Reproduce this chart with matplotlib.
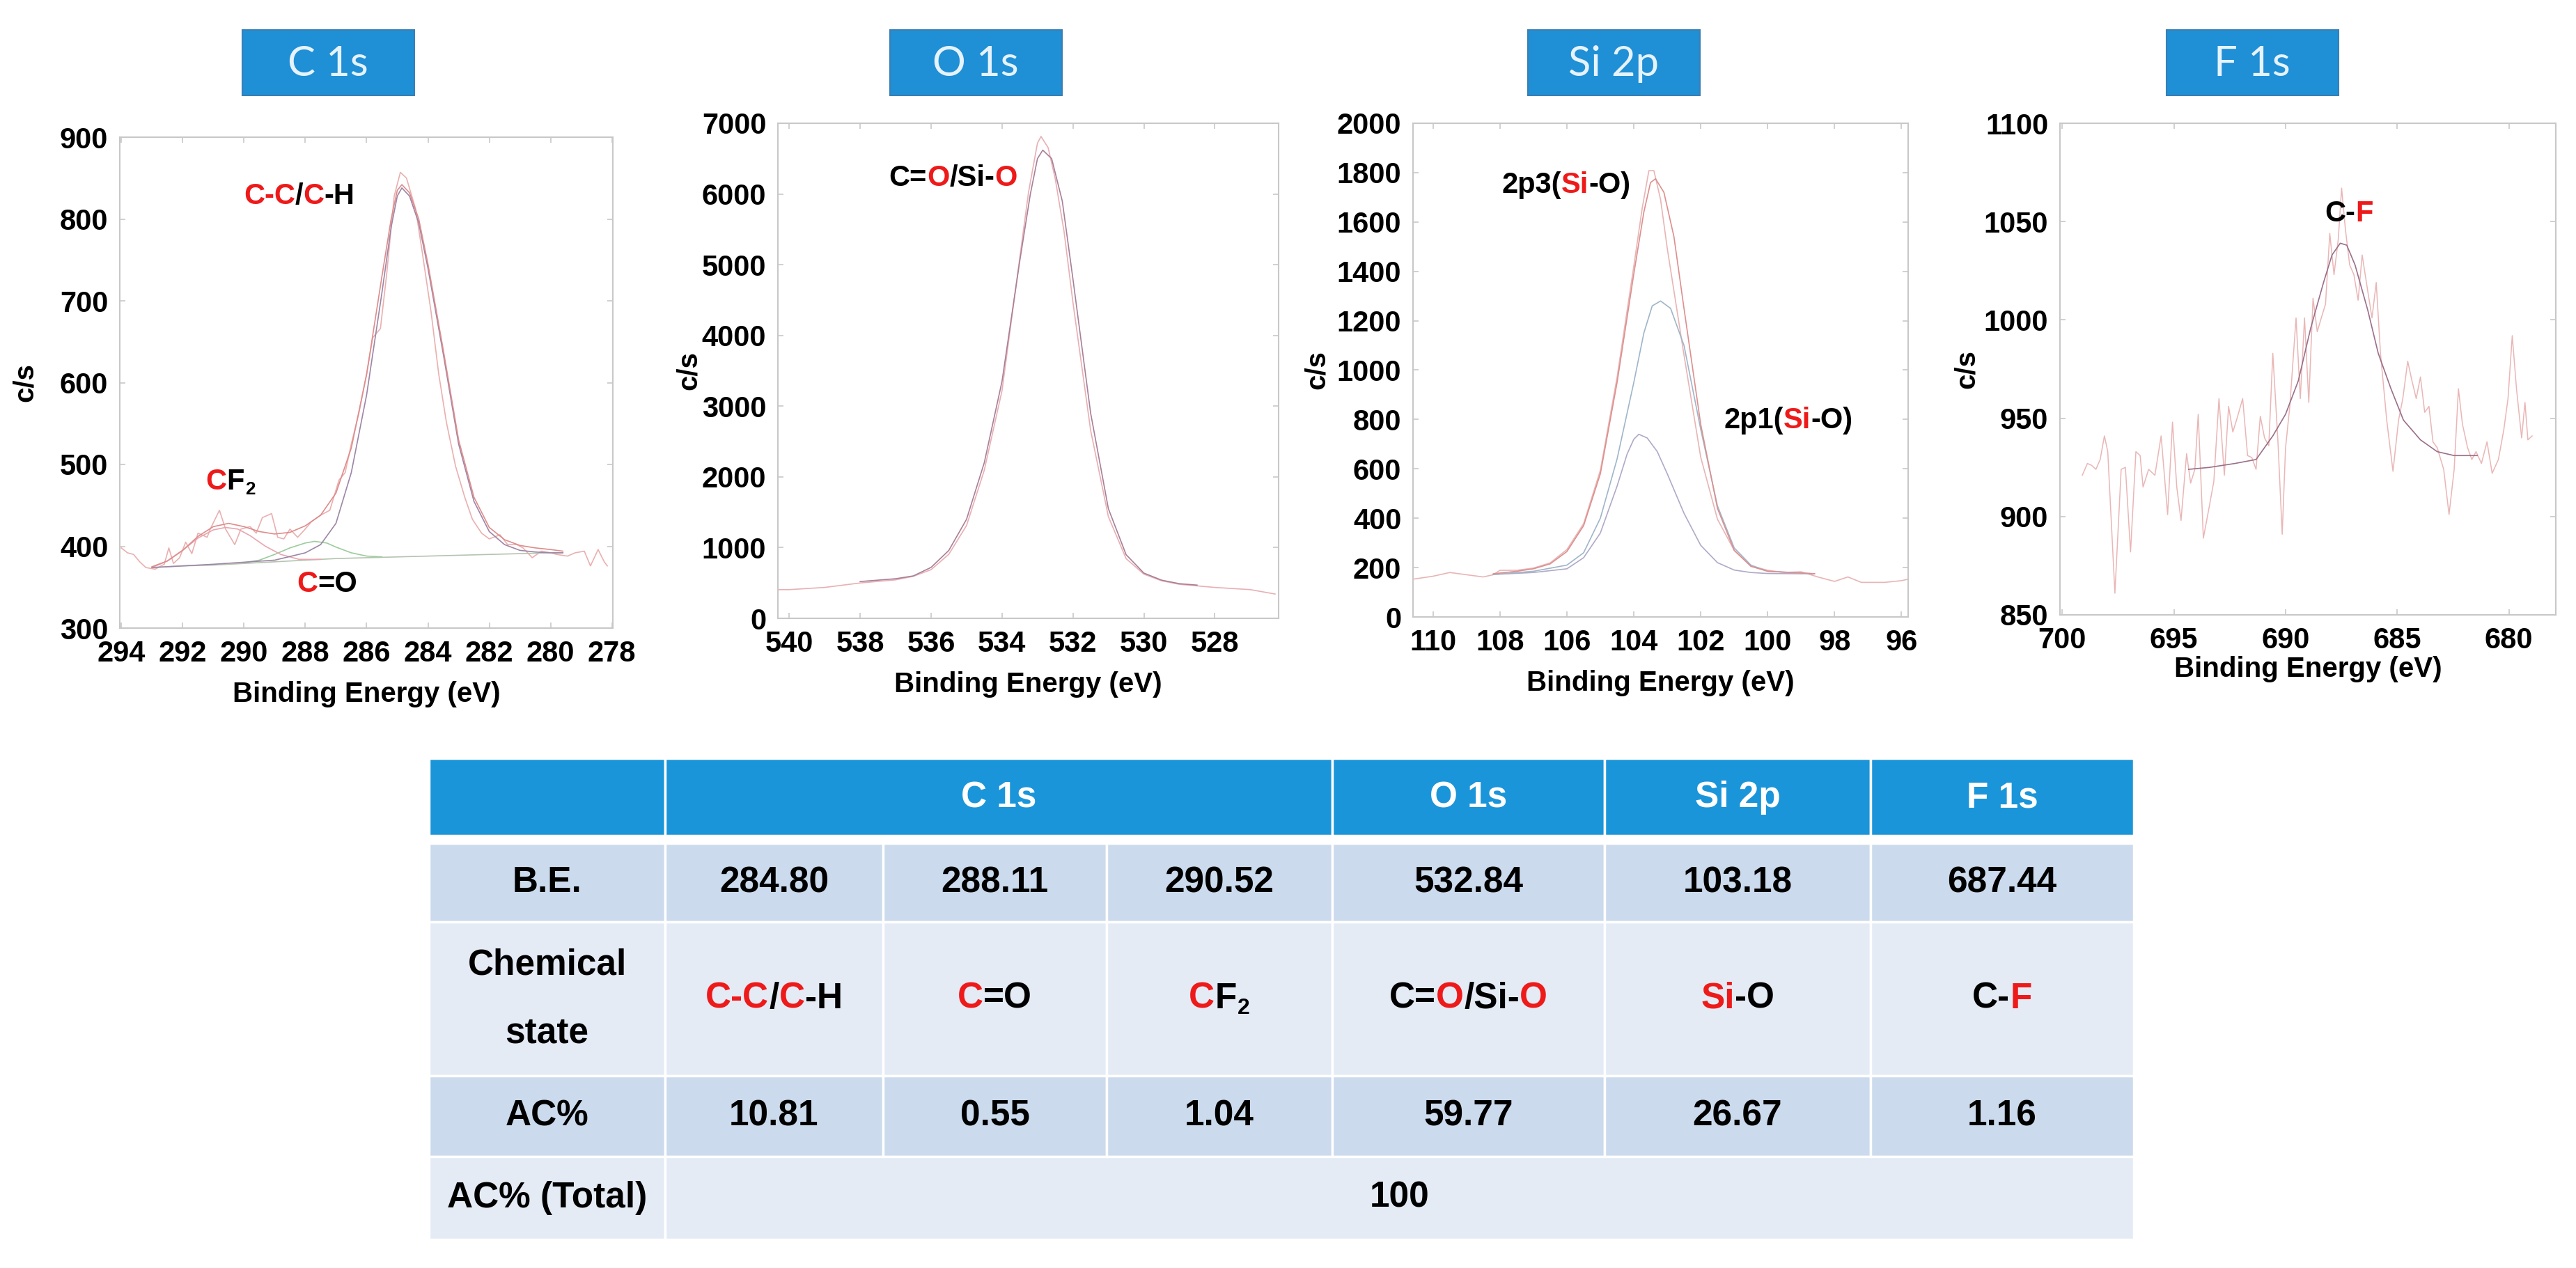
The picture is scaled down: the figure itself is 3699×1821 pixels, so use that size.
import numpy as np
import matplotlib.pyplot as plt
from matplotlib.patches import Rectangle
from matplotlib.transforms import offset_copy

plt.rcParams['font.family'] = ['Liberation Sans', 'DejaVu Sans']
plt.rcParams['font.weight'] = 'bold'
plt.rcParams['axes.labelweight'] = 'bold'

# ---- spectra (binding energy eV, counts c/s) ----
c1s_raw = [(294.0, 398), (293.8, 392), (293.6, 390), (293.4, 381), (293.2, 374), (292.9, 372),
           (292.6, 378), (292.45, 398), (292.3, 379), (292.1, 386), (291.9, 405), (291.7, 391),
           (291.5, 416), (291.2, 411), (291.1, 421), (290.8, 444), (290.6, 421), (290.3, 402),
           (290.1, 421), (289.8, 424), (289.6, 416), (289.4, 435), (289.1, 440), (288.9, 411),
           (288.7, 409), (288.5, 421), (288.25, 411), (288.05, 419), (287.8, 430), (287.5, 438),
           (287.2, 444), (286.9, 481), (286.7, 490), (286.5, 525), (286.25, 563), (286.0, 611),
           (285.8, 655), (285.55, 666), (285.35, 731), (285.1, 828), (284.9, 857), (284.7, 850),
           (284.4, 812), (284.2, 763), (283.9, 687), (283.65, 611), (283.4, 552), (283.1, 498),
           (282.8, 460), (282.55, 433), (282.25, 416), (282.0, 409), (281.65, 414), (281.4, 402),
           (281.1, 402), (280.9, 398), (280.6, 386), (280.3, 394), (280.0, 392), (279.8, 390),
           (279.45, 388), (279.2, 392), (278.9, 394), (278.7, 376), (278.45, 396), (278.25, 381),
           (278.15, 376)]
c1s_env = [(293.0, 375), (292.5, 382), (292.0, 395), (291.5, 412), (291.0, 424), (290.5, 428),
           (290.0, 424), (289.5, 418), (289.0, 415), (288.5, 417), (288.0, 425), (287.5, 438),
           (287.0, 465), (286.5, 520), (286.0, 610), (285.5, 730), (285.2, 800), (285.0, 835),
           (284.85, 842), (284.6, 832), (284.3, 800), (284.0, 745), (283.5, 640), (283.0, 530),
           (282.5, 460), (282.0, 423), (281.5, 408), (281.0, 401), (280.5, 398), (280.0, 396),
           (279.6, 394)]
c1s_cc = [(293.0, 374), (291.0, 378), (289.0, 383), (288.0, 392), (287.5, 402), (287.0, 428),
          (286.5, 490), (286.0, 585), (285.5, 710), (285.2, 790), (285.0, 828), (284.85, 838),
          (284.6, 828), (284.3, 795), (284.0, 740), (283.5, 635), (283.0, 525), (282.5, 455),
          (282.0, 418), (281.5, 402), (281.0, 395), (280.5, 393), (280.0, 392), (279.6, 392)]
c1s_co = [(290.0, 380), (289.5, 383), (289.0, 390), (288.5, 398), (288.0, 404), (287.7, 406),
          (287.3, 404), (287.0, 399), (286.5, 392), (286.0, 388), (285.5, 387)]
c1s_cf2 = [(293.0, 374), (292.5, 382), (292.0, 395), (291.5, 410), (291.0, 420), (290.6, 423),
           (290.2, 421), (289.8, 413), (289.3, 400), (288.8, 390), (288.2, 384), (287.5, 384)]
c1s_bg = [(293.0, 374), (292.0, 376), (291.0, 377), (290.0, 379), (289.0, 381), (288.0, 383),
          (287.0, 385), (286.0, 386), (285.0, 387), (284.0, 388), (283.0, 389), (282.0, 390),
          (281.0, 391), (280.0, 392), (279.6, 392)]

o1s_raw = [(540.32, 406), (540.0, 406), (539.0, 437), (538.0, 500), (537.0, 544), (536.5, 594),
           (536.0, 688), (535.5, 906), (535.0, 1312), (534.5, 2094), (534.0, 3219), (533.5, 5094),
           (533.25, 6031), (533.0, 6719), (532.9, 6813), (532.7, 6656), (532.5, 6219),
           (532.25, 5469), (532.0, 4469), (531.5, 2656), (531.0, 1438), (530.5, 844), (530.0, 625),
           (529.5, 531), (529.0, 481), (528.0, 437), (527.0, 406), (526.3, 344)]
o1s_fit = [(538.0, 520), (537.0, 560), (536.5, 600), (536.0, 720), (535.5, 960), (535.0, 1400),
           (534.5, 2200), (534.0, 3350), (533.5, 5050), (533.2, 6000), (533.0, 6500),
           (532.85, 6620), (532.6, 6500), (532.3, 5900), (532.0, 4800), (531.5, 2900),
           (531.0, 1550), (530.5, 900), (530.0, 640), (529.5, 540), (529.0, 490), (528.5, 470)]

si2p_raw = [(110.6, 153), (110.0, 165), (109.5, 180), (109.0, 171), (108.5, 162), (108.2, 171),
            (108.0, 189), (107.5, 189), (107.0, 198), (106.5, 219), (106.0, 273), (105.5, 378),
            (105.0, 594), (104.5, 971), (104.0, 1421), (103.75, 1655), (103.55, 1808),
            (103.4, 1808), (103.2, 1691), (103.0, 1493), (102.5, 1061), (102.0, 647), (101.5, 396),
            (101.0, 270), (100.5, 207), (100.0, 189), (99.5, 180), (99.0, 183), (98.5, 162),
            (98.0, 144), (97.6, 162), (97.2, 140), (96.5, 140), (96.0, 147), (95.8, 153)]
si2p_env = [(108.2, 175), (107.5, 185), (107.0, 195), (106.5, 215), (106.0, 265), (105.5, 370),
            (105.0, 580), (104.5, 950), (104.0, 1390), (103.7, 1640), (103.5, 1760),
            (103.35, 1775), (103.1, 1720), (102.8, 1540), (102.5, 1250), (102.0, 780),
            (101.5, 440), (101.0, 270), (100.5, 205), (100.0, 185), (99.0, 178), (98.6, 175)]
si2p_p3 = [(108.2, 172), (107.0, 185), (106.0, 210), (105.5, 260), (105.0, 400), (104.5, 640),
           (104.0, 950), (103.7, 1150), (103.45, 1260), (103.2, 1280), (102.9, 1250),
           (102.5, 1100), (102.0, 760), (101.5, 450), (101.0, 280), (100.5, 210), (100.0, 185),
           (99.0, 178), (98.6, 175)]
si2p_p1 = [(108.2, 172), (107.0, 180), (106.0, 195), (105.5, 240), (105.0, 340), (104.5, 530),
           (104.2, 660), (104.0, 720), (103.85, 740), (103.6, 725), (103.3, 670), (103.0, 580),
           (102.5, 420), (102.0, 290), (101.5, 220), (101.0, 190), (100.5, 180), (100.0, 176),
           (99.0, 175), (98.6, 175)]

f1s_raw = [(699.1, 921), (698.87, 927), (698.68, 926), (698.49, 924), (698.3, 929), (698.11, 941),
           (697.96, 933), (697.64, 861), (697.36, 924), (697.17, 925), (696.94, 882), (696.7, 933),
           (696.51, 931), (696.38, 915), (696.13, 924), (695.85, 921), (695.57, 941), (695.28, 901),
           (695.06, 948), (694.87, 915), (694.68, 898), (694.43, 932), (694.25, 917), (694.06, 924),
           (693.91, 952), (693.68, 889), (693.4, 906), (693.21, 918), (692.98, 960), (692.74, 921),
           (692.55, 956), (692.36, 943), (692.17, 950), (691.92, 960), (691.7, 931), (691.51, 930),
           (691.32, 924), (691.13, 951), (690.94, 940), (690.75, 936), (690.57, 983), (690.34, 938),
           (690.15, 891), (690.0, 935), (689.81, 956), (689.53, 1001), (689.34, 960),
           (689.15, 1001), (688.96, 958), (688.77, 1011), (688.58, 994), (688.4, 1001),
           (688.21, 1008), (688.02, 1044), (687.83, 1023), (687.64, 1041), (687.49, 1067),
           (687.32, 1046), (687.13, 1028), (686.94, 1023), (686.75, 1010), (686.57, 1033),
           (686.38, 1019), (686.13, 1001), (685.94, 1019), (685.75, 983), (685.47, 949),
           (685.19, 923), (684.94, 949), (684.75, 960), (684.53, 979), (684.34, 969), (684.15, 960),
           (683.96, 971), (683.77, 953), (683.58, 956), (683.4, 938), (683.21, 935), (682.92, 924),
           (682.68, 901), (682.45, 924), (682.26, 965), (682.08, 947), (681.85, 935), (681.66, 929),
           (681.47, 933), (681.23, 927), (680.98, 938), (680.75, 922), (680.47, 929), (680.23, 944),
           (680.04, 960), (679.85, 992), (679.66, 965), (679.43, 940), (679.28, 958), (679.15, 939),
           (678.96, 941)]
f1s_fit = [(694.34, 924), (693.4, 925), (692.26, 927), (691.32, 929), (690.57, 941), (690.0, 952),
           (689.43, 969), (688.87, 996), (688.3, 1019), (687.92, 1033), (687.55, 1039),
           (687.26, 1038), (686.89, 1028), (686.32, 1005), (685.85, 983), (685.28, 965),
           (684.72, 949), (683.96, 939), (683.21, 933), (682.45, 931), (681.42, 931)]

# ---- table ----
table_heads = ['C 1s', 'O 1s', 'Si 2p', 'F 1s']
table_spans = [3, 1, 1, 1]
row_names = ['B.E.', 'Chemical state', 'AC%', 'AC% (Total)']
be_values = ['284.80', '288.11', '290.52', '532.84', '103.18', '687.44']
ac_values = ['10.81', '0.55', '1.04', '59.77', '26.67', '1.16']
ac_total = '100'

RED = '#ee1a1a'
K = 'black'
chem_states = [
    [('C-C', RED), ('/', K), ('C', RED), ('-H', K)],
    [('C', RED), ('=O', K)],
    [('C', RED), ('F', K), ('2', K, 'sub')],
    [('C=', K), ('O', RED), ('/Si-', K), ('O', RED)],
    [('Si', RED), ('-O', K)],
    [('C-', K), ('F', RED)],
]

W, H = 3699, 1821
fig = plt.figure(figsize=(W / 100, H / 100), dpi=100)
fig.patch.set_facecolor('white')

rich_groups = []


def rich(ax, x, y, parts, size, transform=None):
    if transform is None:
        transform = ax.transData
    t0 = ax.text(x, y, parts[0][0], color=parts[0][1], fontsize=size, fontweight='bold',
                 ha='left', va='center', transform=transform, zorder=6)
    arts = [t0]
    for p in parts[1:]:
        if len(p) > 2:
            a = ax.annotate(p[0], xy=(1, 0), xycoords=arts[-1], xytext=(1, -0.07 * size),
                            textcoords='offset points', fontsize=size * 0.62, color=p[1],
                            fontweight='bold', ha='left', va='bottom', zorder=6)
        else:
            a = ax.annotate(p[0], xy=(1, 0), xycoords=arts[-1], fontsize=size, color=p[1],
                            fontweight='bold', ha='left', va='bottom', zorder=6)
        arts.append(a)
    rich_groups.append((t0, arts, transform))


# overlay axes in pixel units for the boxes and the table
ov = fig.add_axes([0, 0, 1, 1])
ov.set_xlim(0, W)
ov.set_ylim(H, 0)
ov.axis('off')

# title boxes
box_x = [348, 1278, 2194, 3111]
for bx, name in zip(box_x, table_heads):
    ov.add_patch(Rectangle((bx, 43), 247, 94, facecolor='#1f8fd6', edgecolor='#3a7fb5', lw=1.5))
    ov.text(bx + 123, 92, name, ha='center', va='center', fontsize=43, fontweight='normal',
            family=['Lato', 'DejaVu Sans'], color='#e6f3fc')

# panels
def make_panel(rect, xlim, xticks, ylim, yticks, ylab_x, xlabpad):
    ax = fig.add_axes(rect)
    ax.set_xlim(*xlim)
    ax.set_ylim(*ylim)
    ax.set_xticks(xticks)
    ax.set_yticks(yticks)
    for s in ax.spines.values():
        s.set_color('#c8c8c8')
        s.set_linewidth(1.5)
    ax.tick_params(direction='in', length=6, width=1.2, color='#c8c8c8', top=True, right=True,
                   labelsize=30, labelcolor='black', pad=12)
    ax.set_xlabel('Binding Energy (eV)', fontsize=29, labelpad=xlabpad)
    ax.set_ylabel('c/s', fontsize=29)
    ax.yaxis.set_label_coords(ylab_x, 0.5)
    return ax


def draw(ax, pts, color, lw=1.2):
    a = np.array(pts)
    ax.plot(a[:, 0], a[:, 1], color=color, lw=lw)


ax1 = make_panel([172 / W, 1 - 902 / H, 708 / W, 705 / H], (294.05, 277.97),
                 np.arange(294, 277, -2), (300, 900), np.arange(300, 901, 100), -0.165, 14)
draw(ax1, c1s_raw, '#eab0b0')
draw(ax1, c1s_bg, '#b5c4b0')
draw(ax1, c1s_co, '#9ccc9c')
draw(ax1, c1s_cf2, '#e8a6b0')
draw(ax1, c1s_cc, '#9d86a6')
draw(ax1, c1s_env, '#df8c8c')
rich(ax1, 288.2, 828, chem_states[0], 30)
rich(ax1, 290.45, 479, chem_states[2], 30)
rich(ax1, 287.3, 354, chem_states[1], 30)

ax2 = make_panel([1117 / W, 1 - 888 / H, 719 / W, 711 / H], (540.32, 526.2),
                 np.arange(540, 527, -2), (0, 7000), np.arange(0, 7001, 1000), -0.152, 14)
draw(ax2, o1s_raw, '#e8b0b4')
draw(ax2, o1s_fit, '#a88098')
rich(ax2, 535.38, 6219, chem_states[3], 30)

ax3 = make_panel([2029 / W, 1 - 886 / H, 711 / W, 709 / H], (110.6, 95.8),
                 np.arange(110, 95, -2), (0, 2000), np.arange(0, 2001, 200), -0.168, 14)
draw(ax3, si2p_raw, '#e8b5b5')
draw(ax3, si2p_p1, '#b0aac8')
draw(ax3, si2p_p3, '#9fb6c9')
draw(ax3, si2p_env, '#dd8f8f')
rich(ax3, 106.02, 1748, [('2p3(', K), ('Si', RED), ('-O)', K)], 30)
rich(ax3, 99.38, 795, [('2p1(', K), ('Si', RED), ('-O)', K)], 30)

ax4 = make_panel([2958 / W, 1 - 883 / H, 712 / W, 706 / H], (700.1, 677.9),
                 np.arange(700, 679, -5), (850, 1100), np.arange(850, 1101, 50), -0.162, 2)
draw(ax4, f1s_raw, '#eab6b6', lw=1.1)
draw(ax4, f1s_fit, '#9a6f8a')
rich(ax4, 687.17, 1054, chem_states[5], 30)

# table
col_edges = [616, 955, 1268, 1589, 1913, 2304, 2686, 3064]
rows = [(1211, 1324), (1324, 1545), (1545, 1661), (1661, 1780)]
BLUE = '#1b95d9'
DARK = '#cbdaec'
LIGHT = '#e4ebf5'
TS = 37


def cell(x0, x1, y0, y1, color):
    ov.add_patch(Rectangle((x0, y0), x1 - x0, y1 - y0, facecolor=color, edgecolor='white', lw=2.5))


cell(col_edges[0], col_edges[1], 1089, 1200, BLUE)
ci = 1
for name, span in zip(table_heads, table_spans):
    x0, x1 = col_edges[ci], col_edges[ci + span]
    cell(x0, x1, 1089, 1200, BLUE)
    ov.text((x0 + x1) / 2, 1146, name, ha='center', va='center', fontsize=TS, color='white')
    ci += span

row_colors = [DARK, LIGHT, DARK, LIGHT]
for (y0, y1), col, rname in zip(rows, row_colors, row_names):
    cell(col_edges[0], col_edges[1], y0, y1, col)
    cy = (y0 + y1) / 2
    cx = (col_edges[0] + col_edges[1]) / 2
    if rname == 'Chemical state':
        ov.text(cx, cy - 48, 'Chemical', ha='center', va='center', fontsize=TS)
        ov.text(cx, cy + 50, 'state', ha='center', va='center', fontsize=TS)
    else:
        ov.text(cx, cy, rname, ha='center', va='center', fontsize=TS)

    if rname == 'AC% (Total)':
        cell(col_edges[1], col_edges[-1], y0, y1, col)
        ov.text((col_edges[1] + col_edges[-1]) / 2, cy, ac_total, ha='center', va='center', fontsize=TS)
        continue
    for j in range(6):
        x0, x1 = col_edges[j + 1], col_edges[j + 2]
        cell(x0, x1, y0, y1, col)
        mx = (x0 + x1) / 2
        if rname == 'B.E.':
            ov.text(mx, cy, be_values[j], ha='center', va='center', fontsize=TS)
        elif rname == 'AC%':
            ov.text(mx, cy, ac_values[j], ha='center', va='center', fontsize=TS)
        else:
            rich(ov, mx, cy, chem_states[j], TS)

# centre the multi-coloured labels
renderer = fig.canvas.get_renderer()
for t0, arts, tr in rich_groups:
    x0 = arts[0].get_window_extent(renderer).x0
    x1 = max(a.get_window_extent(renderer).x1 for a in arts)
    t0.set_transform(offset_copy(tr, fig=fig, x=-(x1 - x0) / 2, y=0, units='dots'))

fig.savefig('out.png', dpi=100, facecolor='white')
